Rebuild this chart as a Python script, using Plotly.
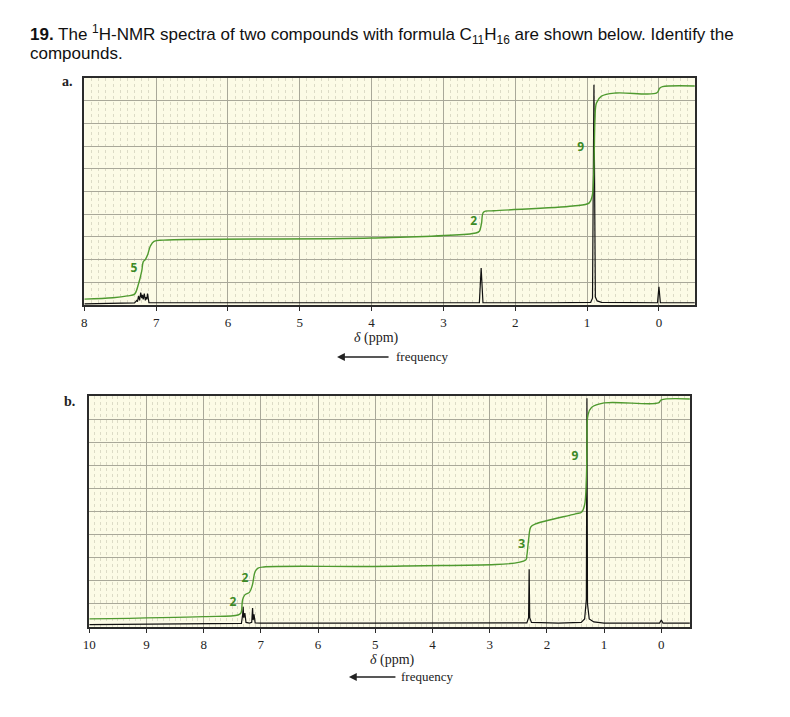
import plotly.graph_objects as go

W, H = 790, 717

# ---------------- data: spectrum a ----------------
spec_a_ppm = [8.0, 7.6, 7.3, 7.27, 7.26, 7.245, 7.23, 7.215, 7.2, 7.19, 7.18, 7.165, 7.15,
              7.14, 7.13, 7.12, 7.11, 7.1, 7.05, 5.0, 2.50, 2.475, 2.45, 1.5, 0.95, 0.925,
              0.905, 0.885, 0.86, 0.8, 0.5, 0.02, 0.0, -0.02, -0.5]
spec_a_int = [0.05, 0.07, 0.09, 0.2, 0.15, 0.4, 0.2, 0.55, 0.3, 0.45, 0.25, 0.5, 0.2,
              0.35, 0.25, 0.5, 0.2, 0.1, 0.1, 0.1, 0.1, 1.63, 0.1, 0.1, 0.12, 0.3,
              9.7, 0.35, 0.18, 0.12, 0.1, 0.1, 0.8, 0.1, 0.1]
integ_a_ppm = [8.0, 7.6, 7.4, 7.3, 7.25, 7.2, 7.18, 7.15, 7.12, 7.08, 7.03, 6.9, 4.0, 2.55,
               2.5, 2.47, 2.44, 2.3, 1.2, 0.97, 0.93, 0.91, 0.9, 0.89, 0.87, 0.8, 0.6,
               0.03, -0.01, -0.05, -0.5]
integ_a_val = [0.26, 0.32, 0.40, 0.48, 0.88, 1.5, 1.9, 2.0, 2.2, 2.6, 2.8, 2.86, 2.95, 3.17,
               3.25, 3.6, 4.1, 4.15, 4.36, 4.5, 4.8, 5.6, 6.8, 8.2, 8.9, 9.2, 9.34,
               9.34, 9.55, 9.62, 9.65]
labels_a = ["5", "2", "9"]
labels_a_ppm = [7.31, 2.58, 1.09]
labels_a_val = [1.59, 3.66, 6.9]

# ---------------- data: spectrum b ----------------
spec_b_ppm = [10.0, 8.0, 7.4, 7.34, 7.32, 7.31, 7.30, 7.28, 7.26, 7.2, 7.16, 7.145, 7.135,
              7.12, 7.1, 7.0, 5.0, 2.35, 2.32, 2.31, 2.30, 2.27, 1.8, 1.4, 1.34, 1.31,
              1.30, 1.29, 1.26, 1.18, 1.0, 0.03, 0.0, -0.03, -0.5]
spec_b_int = [0.1, 0.13, 0.15, 0.16, 0.5, 0.87, 0.4, 0.6, 0.2, 0.17, 0.2, 0.82, 0.3,
              0.55, 0.18, 0.17, 0.17, 0.18, 0.4, 2.5, 0.4, 0.2, 0.17, 0.2, 0.35, 1.2,
              9.9, 1.0, 0.35, 0.22, 0.17, 0.17, 0.3, 0.17, 0.17]
integ_b_ppm = [10.0, 8.0, 7.4, 7.35, 7.32, 7.28, 7.2, 7.15, 7.1, 7.05, 6.95, 4.5, 2.37,
               2.35, 2.32, 2.28, 2.2, 1.5, 1.39, 1.34, 1.31, 1.30, 1.28, 1.22, 1.0,
               0.05, 0.0, -0.5]
integ_b_val = [0.35, 0.45, 0.52, 0.6, 1.17, 1.39, 1.5, 1.8, 2.4, 2.55, 2.6, 2.64, 2.9,
               3.1, 3.77, 4.33, 4.46, 4.9, 4.98, 5.3, 6.4, 7.66, 9.2, 9.5, 9.7,
               9.7, 9.83, 9.87]
labels_b = ["2", "2", "3", "9"]
labels_b_ppm = [7.49, 7.28, 2.44, 1.51]
labels_b_val = [1.04, 2.08, 3.55, 7.36]

ticks_a = [8, 7, 6, 5, 4, 3, 2, 1, 0]
ticks_b = [10, 9, 8, 7, 6, 5, 4, 3, 2, 1, 0]

title_line1 = ("<b>19.</b> The <sup>1</sup>H-NMR spectra of two compounds with formula "
               "C<sub>11</sub>H<sub>16</sub> are shown below. Identify the")
title_line2 = "compounds."

GREEN_LINE = "#4f9a2f"
GREEN_TXT = "#3d8a26"
BG = "#fcfbe6"
MAJOR = "#a9a899"
MINOR = "#dcdbc6"
FRAME = "#2b2b2b"

def px_x(p):
    return p / W

def px_y(p):
    return 1 - p / H

fig = go.Figure()

# panel a
fig.add_trace(go.Scatter(x=spec_a_ppm, y=spec_a_int, mode="lines",
                         line=dict(color="#111111", width=1.2), xaxis="x", yaxis="y",
                         hoverinfo="skip", showlegend=False))
fig.add_trace(go.Scatter(x=integ_a_ppm, y=integ_a_val, mode="lines", line_shape="spline",
                         line=dict(color=GREEN_LINE, width=1.4), xaxis="x", yaxis="y",
                         hoverinfo="skip", showlegend=False))
fig.add_trace(go.Scatter(x=labels_a_ppm, y=labels_a_val, mode="text", text=labels_a,
                         textfont=dict(family="Noto Sans", size=12, color=GREEN_TXT, weight="bold"),
                         xaxis="x", yaxis="y", hoverinfo="skip", showlegend=False))
# panel b
fig.add_trace(go.Scatter(x=spec_b_ppm, y=spec_b_int, mode="lines",
                         line=dict(color="#111111", width=1.2), xaxis="x2", yaxis="y2",
                         hoverinfo="skip", showlegend=False))
fig.add_trace(go.Scatter(x=integ_b_ppm, y=integ_b_val, mode="lines", line_shape="spline",
                         line=dict(color=GREEN_LINE, width=1.4), xaxis="x2", yaxis="y2",
                         hoverinfo="skip", showlegend=False))
fig.add_trace(go.Scatter(x=labels_b_ppm, y=labels_b_val, mode="text", text=labels_b,
                         textfont=dict(family="Noto Sans", size=12, color=GREEN_TXT, weight="bold"),
                         xaxis="x2", yaxis="y2", hoverinfo="skip", showlegend=False))

def xaxis_cfg(rng, ticks, dom):
    return dict(domain=dom, range=rng, tickvals=ticks, ticktext=[str(t) for t in ticks],
                showgrid=True, gridcolor=MAJOR, gridwidth=1,
                minor=dict(dtick=0.1, tick0=0, showgrid=True, gridcolor=MINOR,
                           griddash="dot", gridwidth=1, ticks=""),
                showline=True, linecolor=FRAME, linewidth=2, mirror=True,
                ticks="outside", ticklen=4, tickcolor=FRAME,
                tickfont=dict(family="Liberation Serif", size=13, color="#222222"),
                ticklabelstandoff=0, zeroline=False, fixedrange=True)

def yaxis_cfg(dom, anchor):
    return dict(domain=dom, range=[0, 10], dtick=1, tick0=0, showticklabels=False,
                showgrid=True, gridcolor=MAJOR, gridwidth=1, ticks="",
                showline=True, linecolor=FRAME, linewidth=1.5, mirror=True,
                zeroline=False, anchor=anchor, fixedrange=True)

fig.update_layout(
    width=W, height=H, margin=dict(l=0, r=0, t=0, b=0),
    paper_bgcolor="white", plot_bgcolor=BG,
    xaxis=dict(**xaxis_cfg([8, -0.5], ticks_a, [px_x(78), px_x(694)]), anchor="y"),
    yaxis=yaxis_cfg([px_y(305), px_y(78)], "x"),
    xaxis2=dict(**xaxis_cfg([10, -0.5], ticks_b, [px_x(83), px_x(689)]), anchor="y2"),
    yaxis2=yaxis_cfg([px_y(627), px_y(396)], "x2"),
)

ann = []
ann.append(dict(x=px_x(21), y=px_y(34), xref="paper", yref="paper", xanchor="left",
                yanchor="middle", align="left", showarrow=False, text=title_line1,
                font=dict(family="Liberation Sans", size=17, color="#111111")))
ann.append(dict(x=px_x(21), y=px_y(54), xref="paper", yref="paper", xanchor="left",
                yanchor="middle", align="left", showarrow=False, text=title_line2,
                font=dict(family="Liberation Sans", size=17, color="#111111")))
ann.append(dict(x=px_x(61), y=px_y(82), xref="paper", yref="paper", showarrow=False,
                xanchor="center", yanchor="middle",
                text="<b>a.</b>", font=dict(family="Liberation Serif", size=14, color="#222")))
ann.append(dict(x=px_x(63), y=px_y(401), xref="paper", yref="paper", showarrow=False,
                xanchor="center", yanchor="middle",
                text="<b>b.</b>", font=dict(family="Liberation Serif", size=14, color="#222")))
# axis titles
for cx, cy in [(373, 338), (389, 660)]:
    ann.append(dict(x=px_x(cx), y=px_y(cy), xref="paper", yref="paper", showarrow=False,
                    xanchor="center", yanchor="middle",
                    text="<i>δ</i> (ppm)",
                    font=dict(family="Liberation Serif", size=14, color="#222")))
for tx, ty, ax0, ax1 in [(390, 356, 386, 333), (396, 676, 393, 345)]:
    ann.append(dict(x=px_x(tx), y=px_y(ty), xref="paper", yref="paper", xanchor="left",
                    yanchor="middle", showarrow=False, text="frequency",
                    font=dict(family="Liberation Serif", size=13, color="#222")))
    ann.append(dict(x=px_x(ax1), y=px_y(ty + 1), ax=ax0 - ax1, ay=0, xref="paper",
                    yref="paper", axref="pixel", ayref="pixel", showarrow=True,
                    arrowhead=2, arrowsize=1.2, arrowwidth=1.3, arrowcolor="#222", text=""))
fig.update_layout(annotations=ann)

fig.write_html("out.html")
